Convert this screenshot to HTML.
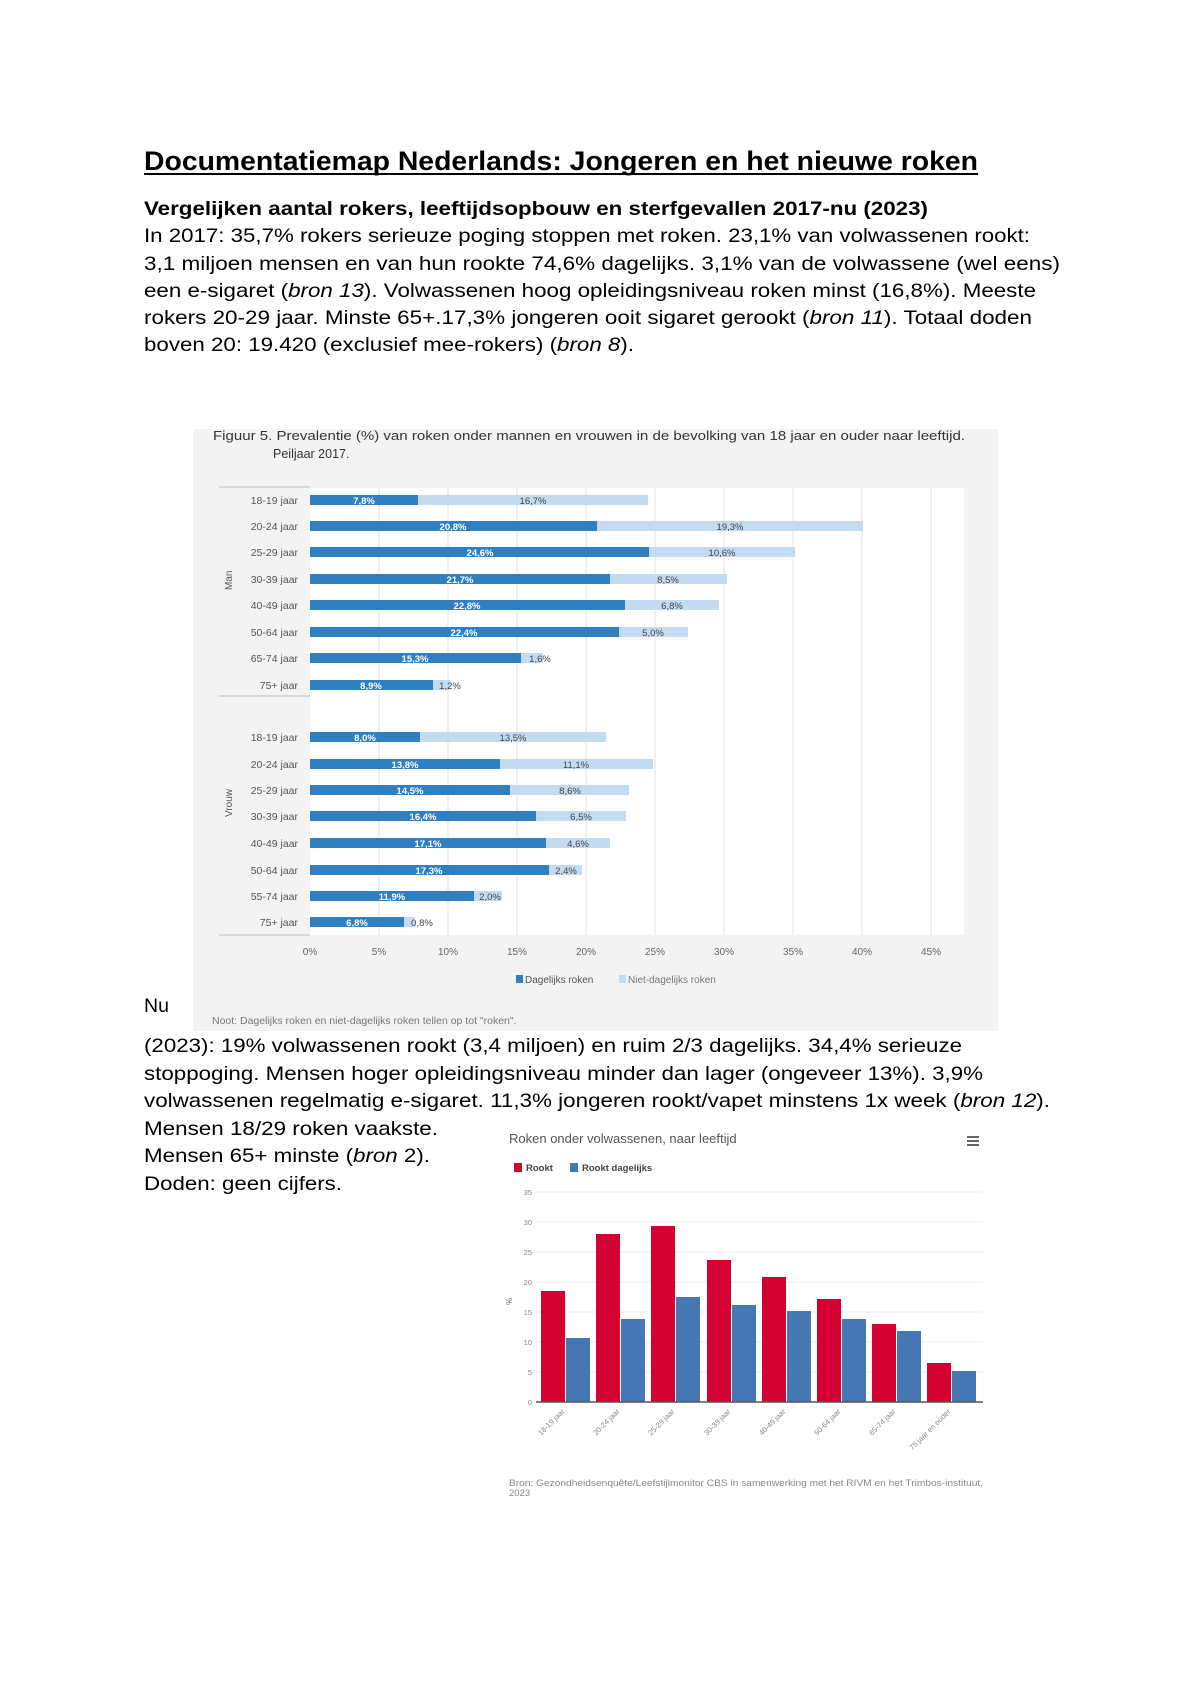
<!DOCTYPE html>
<html><head><meta charset="utf-8"><style>
html,body{margin:0;padding:0;background:#fff}
svg{display:block}
text{font-family:"Liberation Sans",sans-serif}
</style></head><body>
<svg width="1200" height="1696" viewBox="0 0 1200 1696" xmlns="http://www.w3.org/2000/svg">
<!-- Header text -->
<text x="144" y="170" font-size="27" font-weight="bold" textLength="834" lengthAdjust="spacingAndGlyphs" fill="#000">Documentatiemap Nederlands: Jongeren en het nieuwe roken</text>
<rect x="144" y="173" width="834" height="2" fill="#000"/>
<text x="144" y="215" font-size="19" font-weight="bold" textLength="784" lengthAdjust="spacingAndGlyphs">Vergelijken aantal rokers, leeftijdsopbouw en sterfgevallen 2017-nu (2023)</text>
<g font-size="19.5" fill="#000">
<text x="144" y="242" textLength="886" lengthAdjust="spacingAndGlyphs">In 2017: 35,7% rokers serieuze poging stoppen met roken. 23,1% van volwassenen rookt:</text>
<text x="144" y="270" textLength="916" lengthAdjust="spacingAndGlyphs">3,1 miljoen mensen en van hun rookte 74,6% dagelijks.  3,1% van de volwassene (wel eens)</text>
<text x="144" y="297" textLength="892" lengthAdjust="spacingAndGlyphs">een e-sigaret (<tspan font-style="italic">bron 13</tspan>). Volwassenen hoog opleidingsniveau roken minst (16,8%). Meeste</text>
<text x="144" y="324" textLength="888" lengthAdjust="spacingAndGlyphs">rokers 20-29 jaar. Minste 65+.17,3% jongeren ooit sigaret gerookt (<tspan font-style="italic">bron 11</tspan>). Totaal doden</text>
<text x="144" y="351" textLength="490" lengthAdjust="spacingAndGlyphs">boven 20: 19.420 (exclusief mee-rokers) (<tspan font-style="italic">bron 8</tspan>).</text>
</g>

<!-- Chart 1 -->
<rect x="193" y="429" width="805" height="602" fill="#f3f3f3"/>
<rect x="310" y="488" width="654" height="447" fill="#fff"/>
<rect x="219" y="488" width="91" height="447" fill="#f3f3f3"/>
<g stroke="#e2e2e2" stroke-width="1">
<line x1="379" y1="488" x2="379" y2="935"/><line x1="448" y1="488" x2="448" y2="935"/>
<line x1="517" y1="488" x2="517" y2="935"/><line x1="586" y1="488" x2="586" y2="935"/>
<line x1="655" y1="488" x2="655" y2="935"/><line x1="724" y1="488" x2="724" y2="935"/>
<line x1="793" y1="488" x2="793" y2="935"/><line x1="862" y1="488" x2="862" y2="935"/>
<line x1="931" y1="488" x2="931" y2="935"/>
</g>
<g stroke="#cfcfcf" stroke-width="1.5">
<line x1="219" y1="487" x2="310" y2="487"/><line x1="219" y1="696" x2="310" y2="696"/><line x1="219" y1="935" x2="310" y2="935"/>
</g>
<text x="213" y="440" font-size="12.5" fill="#333" textLength="752" lengthAdjust="spacingAndGlyphs">Figuur 5. Prevalentie (%) van roken onder mannen en vrouwen in de bevolking van 18 jaar en ouder naar leeftijd.</text>
<text x="273" y="458" font-size="12.5" fill="#333">Peiljaar 2017.</text>
<text transform="translate(232,590) rotate(-90)" font-size="10" fill="#555">Man</text>
<text transform="translate(232,817) rotate(-90)" font-size="10" fill="#555">Vrouw</text>
<g font-size="10.5" fill="#555" text-anchor="end">
<text x="298" y="504">18-19 jaar</text><text x="298" y="530">20-24 jaar</text><text x="298" y="556">25-29 jaar</text><text x="298" y="583">30-39 jaar</text>
<text x="298" y="609">40-49 jaar</text><text x="298" y="636">50-64 jaar</text><text x="298" y="662">65-74 jaar</text><text x="298" y="689">75+ jaar</text>
<text x="298" y="741">18-19 jaar</text><text x="298" y="768">20-24 jaar</text><text x="298" y="794">25-29 jaar</text><text x="298" y="820">30-39 jaar</text>
<text x="298" y="847">40-49 jaar</text><text x="298" y="874">50-64 jaar</text><text x="298" y="900">55-74 jaar</text><text x="298" y="926">75+ jaar</text>
</g>
<g>
<!-- men -->
<rect x="310" y="495" width="108" height="10" fill="#2f7fc1"/><rect x="418" y="495" width="230" height="10" fill="#c3dbf0"/>
<rect x="310" y="521" width="287" height="10" fill="#2f7fc1"/><rect x="597" y="521" width="266" height="10" fill="#c3dbf0"/>
<rect x="310" y="547" width="339" height="10" fill="#2f7fc1"/><rect x="649" y="547" width="146" height="10" fill="#c3dbf0"/>
<rect x="310" y="574" width="300" height="10" fill="#2f7fc1"/><rect x="610" y="574" width="117" height="10" fill="#c3dbf0"/>
<rect x="310" y="600" width="315" height="10" fill="#2f7fc1"/><rect x="625" y="600" width="94" height="10" fill="#c3dbf0"/>
<rect x="310" y="627" width="309" height="10" fill="#2f7fc1"/><rect x="619" y="627" width="69" height="10" fill="#c3dbf0"/>
<rect x="310" y="653" width="211" height="10" fill="#2f7fc1"/><rect x="521" y="653" width="22" height="10" fill="#c3dbf0"/>
<rect x="310" y="680" width="123" height="10" fill="#2f7fc1"/><rect x="433" y="680" width="17" height="10" fill="#c3dbf0"/>
<!-- women -->
<rect x="310" y="732" width="110" height="10" fill="#2f7fc1"/><rect x="420" y="732" width="186" height="10" fill="#c3dbf0"/>
<rect x="310" y="759" width="190" height="10" fill="#2f7fc1"/><rect x="500" y="759" width="153" height="10" fill="#c3dbf0"/>
<rect x="310" y="785" width="200" height="10" fill="#2f7fc1"/><rect x="510" y="785" width="119" height="10" fill="#c3dbf0"/>
<rect x="310" y="811" width="226" height="10" fill="#2f7fc1"/><rect x="536" y="811" width="90" height="10" fill="#c3dbf0"/>
<rect x="310" y="838" width="236" height="10" fill="#2f7fc1"/><rect x="546" y="838" width="64" height="10" fill="#c3dbf0"/>
<rect x="310" y="865" width="239" height="10" fill="#2f7fc1"/><rect x="549" y="865" width="33" height="10" fill="#c3dbf0"/>
<rect x="310" y="891" width="164" height="10" fill="#2f7fc1"/><rect x="474" y="891" width="28" height="10" fill="#c3dbf0"/>
<rect x="310" y="917" width="94" height="10" fill="#2f7fc1"/><rect x="404" y="917" width="11" height="10" fill="#c3dbf0"/>
</g>
<g font-size="9.5" fill="#fff" text-anchor="middle" font-weight="bold">
<text x="364" y="504">7,8%</text><text x="453" y="530">20,8%</text><text x="480" y="556">24,6%</text><text x="460" y="583">21,7%</text>
<text x="467" y="609">22,8%</text><text x="464" y="636">22,4%</text><text x="415" y="662">15,3%</text><text x="371" y="689">8,9%</text>
<text x="365" y="741">8,0%</text><text x="405" y="768">13,8%</text><text x="410" y="794">14,5%</text><text x="423" y="820">16,4%</text>
<text x="428" y="847">17,1%</text><text x="429" y="874">17,3%</text><text x="392" y="900">11,9%</text><text x="357" y="926">6,8%</text>
</g>
<g font-size="9.5" fill="#444" text-anchor="middle">
<text x="533" y="504">16,7%</text><text x="730" y="530">19,3%</text><text x="722" y="556">10,6%</text><text x="668" y="583">8,5%</text>
<text x="672" y="609">6,8%</text><text x="653" y="636">5,0%</text><text x="540" y="662">1,6%</text><text x="450" y="689">1,2%</text>
<text x="513" y="741">13,5%</text><text x="576" y="768">11,1%</text><text x="570" y="794">8,6%</text><text x="581" y="820">6,5%</text>
<text x="578" y="847">4,6%</text><text x="566" y="874">2,4%</text><text x="490" y="900">2,0%</text><text x="422" y="926">0,8%</text>
</g>
<g font-size="10" fill="#666" text-anchor="middle">
<text x="310" y="955">0%</text><text x="379" y="955">5%</text><text x="448" y="955">10%</text><text x="517" y="955">15%</text>
<text x="586" y="955">20%</text><text x="655" y="955">25%</text><text x="724" y="955">30%</text><text x="793" y="955">35%</text>
<text x="862" y="955">40%</text><text x="931" y="955">45%</text>
</g>
<rect x="516" y="975" width="7" height="8" fill="#2f7fc1"/>
<text x="525" y="983" font-size="10" fill="#555">Dagelijks roken</text>
<rect x="619" y="975" width="7" height="8" fill="#c3dbf0"/>
<text x="628" y="983" font-size="10" fill="#777">Niet-dagelijks roken</text>
<text x="212" y="1024" font-size="10.5" fill="#777">Noot: Dagelijks roken en niet-dagelijks roken tellen op tot "roken".</text>

<!-- Middle text -->
<g font-size="19.5" fill="#000">
<text x="144" y="1012">Nu</text>
<text x="144" y="1052" textLength="818" lengthAdjust="spacingAndGlyphs">(2023): 19% volwassenen rookt (3,4 miljoen) en ruim 2/3 dagelijks. 34,4% serieuze</text>
<text x="144" y="1080" textLength="839" lengthAdjust="spacingAndGlyphs">stoppoging. Mensen hoger opleidingsniveau minder dan lager (ongeveer 13%). 3,9%</text>
<text x="144" y="1107" textLength="906" lengthAdjust="spacingAndGlyphs">volwassenen regelmatig e-sigaret. 11,3% jongeren rookt/vapet minstens 1x week (<tspan font-style="italic">bron 12</tspan>).</text>
<text x="144" y="1135" textLength="294" lengthAdjust="spacingAndGlyphs">Mensen 18/29 roken vaakste.</text>
<text x="144" y="1162" textLength="286" lengthAdjust="spacingAndGlyphs">Mensen 65+ minste (<tspan font-style="italic">bron</tspan> 2).</text>
<text x="144" y="1190" textLength="198" lengthAdjust="spacingAndGlyphs">Doden: geen cijfers.</text>
</g>

<!-- Chart 2 -->
<text x="509" y="1143" font-size="13" fill="#555">Roken onder volwassenen, naar leeftijd</text>
<g fill="#666"><rect x="967" y="1136" width="12" height="2"/><rect x="967" y="1140" width="12" height="2"/><rect x="967" y="1144" width="12" height="2"/></g>
<rect x="514" y="1163" width="8" height="9" fill="#d50032"/>
<text x="526" y="1171" font-size="9.5" font-weight="bold" fill="#444">Rookt</text>
<rect x="570" y="1163" width="8" height="9" fill="#4477b4"/>
<text x="582" y="1171" font-size="9.5" font-weight="bold" fill="#444">Rookt dagelijks</text>
<g stroke="#ececec" stroke-width="1">
<line x1="536" y1="1192" x2="983" y2="1192"/><line x1="536" y1="1222" x2="983" y2="1222"/>
<line x1="536" y1="1252" x2="983" y2="1252"/><line x1="536" y1="1282" x2="983" y2="1282"/>
<line x1="536" y1="1312" x2="983" y2="1312"/><line x1="536" y1="1342" x2="983" y2="1342"/>
<line x1="536" y1="1372" x2="983" y2="1372"/>
</g>
<g font-size="7.5" fill="#888" text-anchor="end">
<text x="532" y="1195">35</text><text x="532" y="1225">30</text><text x="532" y="1255">25</text><text x="532" y="1285">20</text>
<text x="532" y="1315">15</text><text x="532" y="1345">10</text><text x="532" y="1375">5</text><text x="532" y="1405">0</text>
</g>
<text transform="translate(512,1305) rotate(-90)" font-size="8" fill="#666">%</text>
<g fill="#d50032">
<rect x="541" y="1291" width="24" height="111"/>
<rect x="596" y="1234" width="24" height="168"/>
<rect x="651" y="1226" width="24" height="176"/>
<rect x="707" y="1260" width="24" height="142"/>
<rect x="762" y="1277" width="24" height="125"/>
<rect x="817" y="1299" width="24" height="103"/>
<rect x="872" y="1324" width="24" height="78"/>
<rect x="927" y="1363" width="24" height="39"/>
</g>
<g fill="#4477b4">
<rect x="566" y="1338" width="24" height="64"/>
<rect x="621" y="1319" width="24" height="83"/>
<rect x="676" y="1297" width="24" height="105"/>
<rect x="732" y="1305" width="24" height="97"/>
<rect x="787" y="1311" width="24" height="91"/>
<rect x="842" y="1319" width="24" height="83"/>
<rect x="897" y="1331" width="24" height="71"/>
<rect x="952" y="1371" width="24" height="31"/>
</g>
<line x1="536" y1="1402" x2="983" y2="1402" stroke="#555" stroke-width="1.5"/>
<g font-size="7.5" fill="#888" text-anchor="end">
<text transform="translate(565,1412) rotate(-45)">18-19 jaar</text>
<text transform="translate(620,1412) rotate(-45)">20-24 jaar</text>
<text transform="translate(675,1412) rotate(-45)">25-29 jaar</text>
<text transform="translate(731,1412) rotate(-45)">30-39 jaar</text>
<text transform="translate(786,1412) rotate(-45)">40-49 jaar</text>
<text transform="translate(841,1412) rotate(-45)">50-64 jaar</text>
<text transform="translate(896,1412) rotate(-45)">65-74 jaar</text>
<text transform="translate(951,1412) rotate(-45)">75 jaar en ouder</text>
</g>
<text x="509" y="1486" font-size="9.5" fill="#888" textLength="474" lengthAdjust="spacingAndGlyphs">Bron: Gezondheidsenquête/Leefstijlmonitor CBS in samenwerking met het RIVM en het Trimbos-instituut,</text>
<text x="509" y="1496" font-size="9.5" fill="#888">2023</text>
</svg>
</body></html>
